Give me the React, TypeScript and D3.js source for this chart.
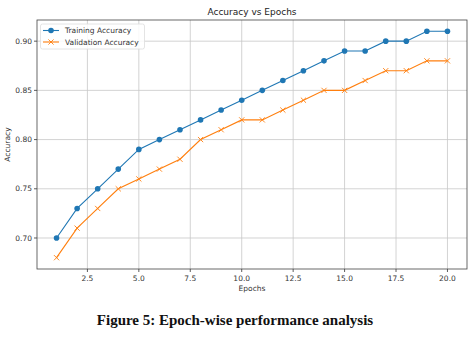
import React from "react";
import * as d3 from "d3";

const epochs = [1,2,3,4,5,6,7,8,9,10,11,12,13,14,15,16,17,18,19,20];
const trainAcc = [0.70,0.73,0.75,0.77,0.79,0.80,0.81,0.82,0.83,0.84,0.85,0.86,0.87,0.88,0.89,0.89,0.90,0.90,0.91,0.91];
const valAcc = [0.68,0.71,0.73,0.75,0.76,0.77,0.78,0.80,0.81,0.82,0.82,0.83,0.84,0.85,0.85,0.86,0.87,0.87,0.88,0.88];
const xTicks = [2.5,5.0,7.5,10.0,12.5,15.0,17.5,20.0];
const yTicks = [0.70,0.75,0.80,0.85,0.90];
const seriesNames = ["Training Accuracy","Validation Accuracy"];
const title = "Accuracy vs Epochs";
const xLabel = "Epochs";
const yLabel = "Accuracy";
const caption = "Figure 5: Epoch-wise performance analysis";

const W = 474, H = 339;
const L = 37, R = 467, T = 20, B = 269;
const blue = "#1f77b4", orange = "#ff7f0e";
const font = "DejaVu Sans, sans-serif";
const fs = 7.5;

export default function App() {
  const x = d3.scaleLinear().domain([0.05, 20.95]).range([L, R]);
  const y = d3.scaleLinear().domain([0.6685, 0.9215]).range([B, T]);
  const line = d3.line<number>().x((_, i) => x(epochs[i])).y(d => y(d));
  return (
    <svg width={W} height={H} style={{position:"absolute",left:0,top:0,background:"#fff"}}>
      {xTicks.map(t => (
        <g key={"x"+t}>
          <line x1={x(t)} x2={x(t)} y1={T} y2={B} stroke="#c8c8c8" strokeWidth={0.8}/>
          <line x1={x(t)} x2={x(t)} y1={B} y2={B+3} stroke="#333" strokeWidth={0.8}/>
          <text x={x(t)} y={B+12} fontFamily={font} fontSize={fs} fill="#333" textAnchor="middle">{t.toFixed(1)}</text>
        </g>
      ))}
      {yTicks.map(t => (
        <g key={"y"+t}>
          <line x1={L} x2={R} y1={y(t)} y2={y(t)} stroke="#c8c8c8" strokeWidth={0.8}/>
          <line x1={L-3} x2={L} y1={y(t)} y2={y(t)} stroke="#333" strokeWidth={0.8}/>
          <text x={L-5} y={y(t)+2.7} fontFamily={font} fontSize={fs} fill="#333" textAnchor="end">{t.toFixed(2)}</text>
        </g>
      ))}
      <rect x={L} y={T} width={R-L} height={B-T} fill="none" stroke="#444" strokeWidth={0.8}/>
      <path d={line(trainAcc) || ""} fill="none" stroke={blue} strokeWidth={1.1}/>
      <path d={line(valAcc) || ""} fill="none" stroke={orange} strokeWidth={1.1}/>
      {trainAcc.map((v,i) => <circle key={"t"+i} cx={x(epochs[i])} cy={y(v)} r={2.8} fill={blue}/>)}
      {valAcc.map((v,i) => {
        const cx = x(epochs[i]), cy = y(v), s = 2.6;
        return <path key={"v"+i} d={`M${cx-s},${cy-s}L${cx+s},${cy+s}M${cx-s},${cy+s}L${cx+s},${cy-s}`} stroke={orange} strokeWidth={0.9}/>;
      })}
      <g>
        <rect x={40.5} y={24} width={104} height={25} rx={2} fill="#fff" fillOpacity={0.85} stroke="#ddd" strokeWidth={0.8}/>
        <line x1={43} x2={59} y1={30.5} y2={30.5} stroke={blue} strokeWidth={1.1}/>
        <circle cx={51} cy={30.5} r={2.8} fill={blue}/>
        <text x={65} y={33.2} fontFamily={font} fontSize={fs} fill="#333">{seriesNames[0]}</text>
        <line x1={43} x2={59} y1={42} y2={42} stroke={orange} strokeWidth={1.1}/>
        <path d="M48.4,39.4L53.6,44.6M48.4,44.6L53.6,39.4" stroke={orange} strokeWidth={0.9}/>
        <text x={65} y={44.7} fontFamily={font} fontSize={fs} fill="#333">{seriesNames[1]}</text>
      </g>
      <text x={(L+R)/2} y={15} fontFamily={font} fontSize={9} fill="#222" textAnchor="middle">{title}</text>
      <text x={(L+R)/2} y={291} fontFamily={font} fontSize={fs} fill="#333" textAnchor="middle">{xLabel}</text>
      <text transform={`translate(9.5,${(T+B)/2}) rotate(-90)`} fontFamily={font} fontSize={fs} fill="#333" textAnchor="middle">{yLabel}</text>
      <text x={235} y={325} fontFamily="Liberation Serif, serif" fontWeight="bold" fontSize={15} fill="#111" textAnchor="middle">{caption}</text>
    </svg>
  );
}
